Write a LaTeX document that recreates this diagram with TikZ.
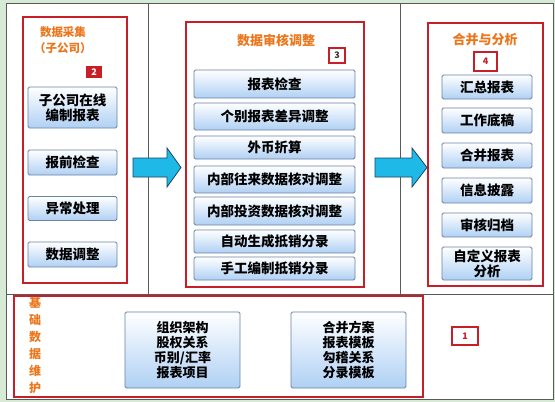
\documentclass[tikz,border=0pt]{standalone}
\usepackage{fontspec}
\newfontfamily\cjk{Noto Sans CJK SC}
\usetikzlibrary{shadows}
\definecolor{bggreen}{RGB}{214,234,214}
\definecolor{gridgray}{RGB}{90,90,90}
\definecolor{boxred}{RGB}{200,30,40}
\definecolor{titleorange}{RGB}{236,118,28}
\definecolor{btnborder}{RGB}{110,130,165}
\definecolor{btnblue}{RGB}{175,208,244}
\definecolor{arrowcyan}{RGB}{30,185,230}
\definecolor{arrowedge}{RGB}{25,70,100}
\tikzset{
  grid line/.style={draw=gridgray, line width=0.9pt},
  redbox/.style={draw=boxred, line width=2.6pt, fill=white,
    drop shadow={shadow xshift=1.2pt, shadow yshift=-1.2pt, opacity=0.35, fill=gray}},
  btn/.style={draw=btnborder, line width=0.8pt, rounded corners=1.5pt,
    top color=white, bottom color=btnblue, align=center, inner sep=0pt,
    font=\cjk\bfseries\fontsize{13.5}{15}\selectfont},
  basebtn/.style={btn, font=\cjk\bfseries\fontsize{13}{15}\selectfont},
  title/.style={text=titleorange, align=center, inner sep=0pt,
    font=\cjk\bfseries\fontsize{13}{16}\selectfont},
  numbox/.style={draw=boxred, line width=1.6pt, fill=white, inner sep=0pt,
    text=boxred, font=\cjk\bfseries\fontsize{9}{9}\selectfont},
  blockarrow/.style={fill=arrowcyan, draw=arrowedge, line width=0.8pt, line join=miter},
}
\begin{document}
\begin{tikzpicture}[x=1pt, y=-1pt]
  % background and margins
  \useasboundingbox (0,0) rectangle (555,402);
  \fill[bggreen] (0,0) rectangle (555,402);
  \fill[white] (6,3) rectangle (553,399);
  % table grid
  \draw[grid line] (6,3) rectangle (553,399);
  \draw[grid line] (148,3) -- (148,294);
  \draw[grid line] (400,3) -- (400,294);
  \draw[grid line] (6,294) -- (553,294);

  % red group frames
  \draw[redbox] (23,17) rectangle (127,283);
  \draw[redbox] (186,22) rectangle (364,287);
  \draw[redbox] (428,23) rectangle (543,286);
  \draw[redbox] (14,296) rectangle (423,397);

  % block arrows
  \draw[blockarrow] (133,158) -- (167,158) -- (167,148) -- (181,167.5)
     -- (167,187) -- (167,177) -- (133,177) -- cycle;
  \draw[blockarrow] (375,158) -- (412,158) -- (412,148) -- (427,167.5)
     -- (412,187) -- (412,177) -- (375,177) -- cycle;

  % group 2: data collection
  \node[title, font=\cjk\bfseries\fontsize{11.5}{16}\selectfont] (t2) at (63,40) {数据采集\\（子公司）};
  \node[numbox, fill=boxred, text=white, line width=1.2pt, minimum width=14pt, minimum height=11pt] (n2) at (94,72) {2};
  \node[btn, minimum width=89pt, minimum height=41pt] (a1) at (72.5,107.5) {子公司在线\\编制报表};
  \node[btn, minimum width=89pt, minimum height=25pt] (a2) at (72.5,162.5) {报前检查};
  \node[btn, minimum width=89pt, minimum height=24pt] (a3) at (72.5,208.5) {异常处理};
  \node[btn, minimum width=89pt, minimum height=25pt] (a4) at (72.5,254.5) {数据调整};

  % group 3: review and adjustment
  \node[title] (t3) at (276,40) {数据审核调整};
  \node[numbox, text=black!80, minimum width=16pt, minimum height=15pt] (n3) at (337,55.5) {3};
  \node[btn, minimum width=161pt, minimum height=28pt] (b1) at (274.5,84) {报表检查};
  \node[btn, minimum width=161pt, minimum height=27pt] (b2) at (274.5,116.5) {个别报表差异调整};
  \node[btn, minimum width=161pt, minimum height=23pt] (b3) at (274.5,147.5) {外币折算};
  \node[btn, minimum width=161pt, minimum height=27pt] (b4) at (274.5,179.5) {内部往来数据核对调整};
  \node[btn, minimum width=161pt, minimum height=28pt] (b5) at (274.5,211) {内部投资数据核对调整};
  \node[btn, minimum width=161pt, minimum height=23pt] (b6) at (274.5,241.5) {自动生成抵销分录};
  \node[btn, minimum width=161pt, minimum height=23pt] (b7) at (274.5,268.5) {手工编制抵销分录};

  % group 4: consolidation and analysis
  \node[title] (t4) at (485,40) {合并与分析};
  \node[numbox, minimum width=23pt, minimum height=19pt] (n4) at (485.5,61.5) {4};
  \node[btn, minimum width=90pt, minimum height=24pt] (c1) at (487,87) {汇总报表};
  \node[btn, minimum width=90pt, minimum height=25pt] (c2) at (487,120.5) {工作底稿};
  \node[btn, minimum width=90pt, minimum height=25pt] (c3) at (487,155.5) {合并报表};
  \node[btn, minimum width=90pt, minimum height=25pt] (c4) at (487,190.5) {信息披露};
  \node[btn, minimum width=90pt, minimum height=24pt] (c5) at (487,225) {审核归档};
  \node[btn, minimum width=90pt, minimum height=33pt] (c6) at (487,263.5) {自定义报表\\分析};

  % group 1: base data maintenance
  \node[title, font=\cjk\bfseries\fontsize{12}{17}\selectfont] (t1) at (35,345) {基\\础\\数\\据\\维\\护};
  \node[basebtn, minimum width=115pt, minimum height=76pt] (d1) at (182.5,350) {组织架构\\股权关系\\币别/汇率\\报表项目};
  \node[basebtn, minimum width=115pt, minimum height=76pt] (d2) at (348.5,350) {合并方案\\报表模板\\勾稽关系\\分录模板};
  \node[numbox, text=boxred, minimum width=26pt, minimum height=18pt] (n1) at (465,336) {1};
\end{tikzpicture}
\end{document}
